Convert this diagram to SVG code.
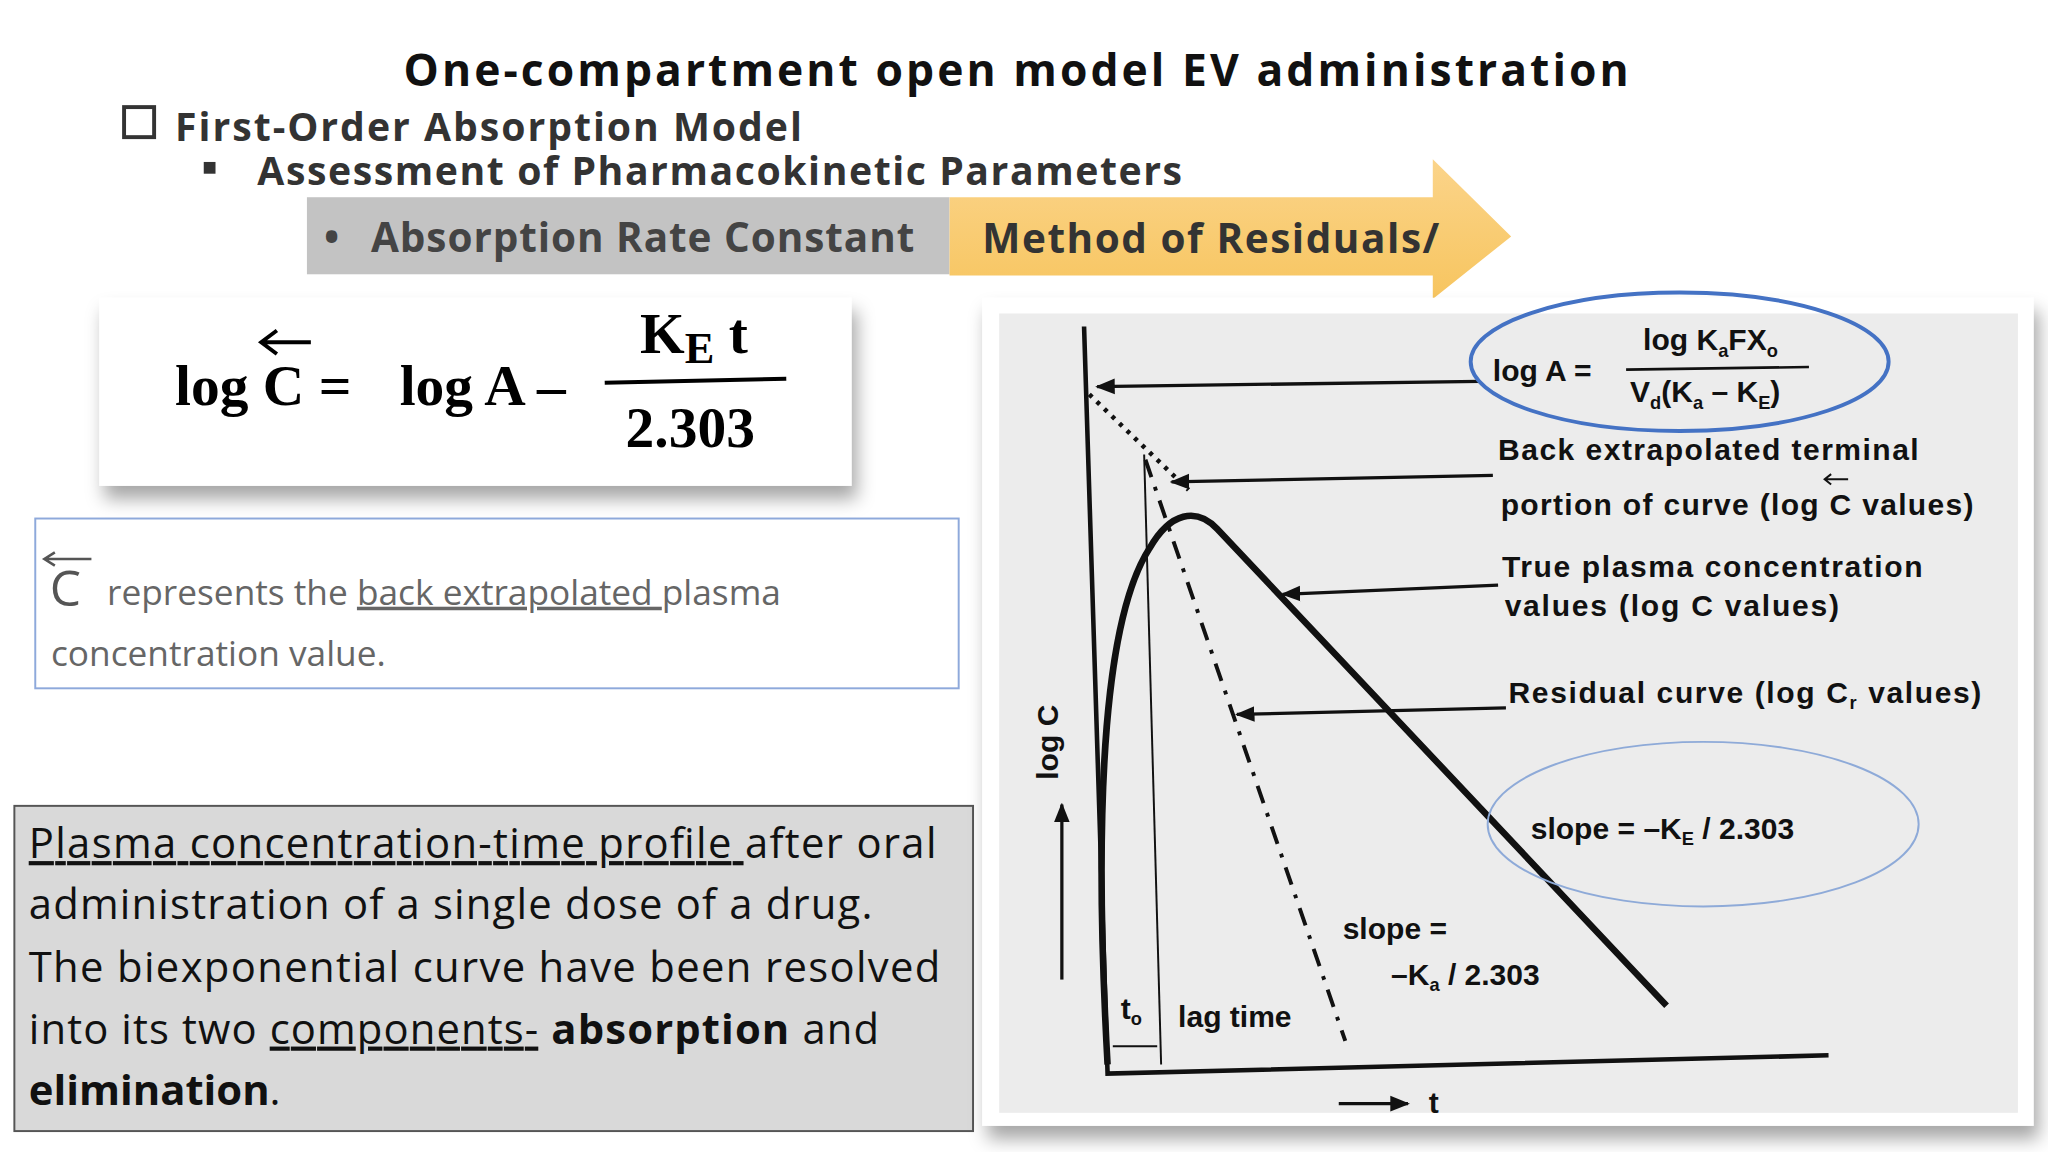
<svg xmlns="http://www.w3.org/2000/svg" width="2048" height="1152" viewBox="0 0 2048 1152">
<defs>
<style>
.h{font-family:"Open Sans","Liberation Sans",sans-serif;font-weight:bold}
.b{font-family:"Open Sans","Liberation Sans",sans-serif}
.c{font-family:"Liberation Sans",Arial,sans-serif;font-size:23px;font-weight:bold;fill:#111}
.s{font-family:"Liberation Serif",serif;font-weight:bold;fill:#000}
.ln{stroke:#111;fill:none}
</style>
<marker id="ah" viewBox="0 0 10 10" refX="9" refY="5" markerWidth="6" markerHeight="6" orient="auto"><path d="M0,1 L10,5 L0,9 z" fill="#111"/></marker>
<linearGradient id="og" x1="0" y1="0" x2="0" y2="1"><stop offset="0" stop-color="#fbd48a"/><stop offset="1" stop-color="#f7c55f"/></linearGradient>
<filter id="sh" x="-5%" y="-5%" width="115%" height="130%"><feDropShadow dx="4" dy="10" stdDeviation="7" flood-color="#000" flood-opacity="0.35"/></filter>
</defs>
<rect width="2048" height="1152" fill="#fff"/>
<g transform="scale(1.3061)">
<g id="title"><text class="h" x="778" y="66" font-size="34" text-anchor="middle" fill="#111" textLength="938">One-compartment open model EV administration</text></g>
<g id="heading1"><rect x="95" y="82" width="23" height="23" fill="none" stroke="#333" stroke-width="3"/><text class="h" x="134" y="108" font-size="30" fill="#333" textLength="480">First-Order Absorption Model</text></g>
<g id="heading2"><rect x="156" y="124" width="9" height="9" fill="#333"/><text class="h" x="197" y="142" font-size="30" fill="#333" textLength="708">Assessment of Pharmacokinetic Parameters</text></g>
<g id="greybar"><rect x="235" y="151" width="492" height="59" fill="#c3c3c3"/><text class="h" x="248" y="193" font-size="31" fill="#444">•</text><text class="h" x="284" y="193" font-size="31" fill="#444" textLength="416">Absorption Rate Constant</text></g>
<g id="arrow"><path d="M727,151 H1097 V122 L1157,181 L1097,229 V211 H727 Z" fill="url(#og)"/><text class="h" x="752" y="194" font-size="31" fill="#333" textLength="350">Method of Residuals/</text></g>
<g id="eqbox"><rect x="76" y="228" width="576" height="144" fill="#fff" filter="url(#sh)"/>
<text class="s" x="134" y="310" font-size="44">log C =</text>
<path d="M200,262 H238 M212,253 L200,262 L212,271" stroke="#000" stroke-width="3" fill="none"/>
<text class="s" x="306" y="310" font-size="44">log A –</text>
<text class="s" x="490" y="270" font-size="44">K<tspan font-size="34" dy="8">E</tspan><tspan dy="-8"> t</tspan></text>
<line x1="463" y1="293" x2="602" y2="290" stroke="#000" stroke-width="3"/>
<text class="s" x="479" y="342" font-size="44">2.303</text></g>
<g id="notebox"><rect x="27" y="397" width="707" height="130" fill="#fff" stroke="#8ea9db" stroke-width="1.5"/>
<path d="M34,428 H70 M42,423 L34,428 L42,433" stroke="#555" stroke-width="2" fill="none"/>
<text class="b" x="38" y="464" font-size="38" fill="#555">C</text>
<text class="b" x="82" y="463" font-size="27" fill="#666">represents the <tspan text-decoration="underline">back extrapolated </tspan>plasma</text>
<text class="b" x="39" y="510" font-size="27" fill="#666">concentration value.</text></g>
<g id="descbox"><rect x="11" y="617" width="734" height="249" fill="#d9d9d9" stroke="#555" stroke-width="1.5"/>
<g class="b" font-size="32" fill="#111">
<text x="22" y="657" textLength="695"><tspan text-decoration="underline">Plasma concentration-time profile </tspan>after oral</text>
<text x="22" y="704" textLength="646">administration of a single dose of a drug.</text>
<text x="22" y="752" textLength="698">The biexponential curve have been resolved</text>
<text x="22" y="799" textLength="651">into its two <tspan text-decoration="underline">components-</tspan> <tspan font-weight="bold">absorption</tspan> and</text>
<text x="22" y="846" font-weight="bold">elimination<tspan font-weight="normal">.</tspan></text></g></g>
<g id="chart">
<rect x="752" y="228" width="805" height="634" fill="#fff" filter="url(#sh)"/>
<rect x="765" y="240" width="780" height="612" fill="#ececec"/>
<path d="M830,250 L848,822 L1400,808" class="ln" stroke-width="3.5"/>
<path d="M848,815 C836,600 848,470 880,420 C896,392 916,388 932,405 L1276,770" class="ln" stroke-width="5"/>
<line x1="834" y1="302" x2="910" y2="375" class="ln" stroke-width="3.5" stroke-dasharray="3 5"/>
<line x1="877" y1="352" x2="1030" y2="797" class="ln" stroke-width="3" stroke-dasharray="14 8 3 8"/>
<line x1="876" y1="348" x2="889" y2="815" class="ln" stroke-width="1.5"/>
<line x1="852" y1="801" x2="886" y2="801" class="ln" stroke-width="1.5"/>
</g>
<g id="connectors" stroke="#111" stroke-width="2.5" fill="none">
<line x1="1133" y1="292" x2="840" y2="296" marker-end="url(#ah)"/>
<line x1="1143" y1="364" x2="897" y2="369" marker-end="url(#ah)"/>
<line x1="1147" y1="448" x2="982" y2="455" marker-end="url(#ah)"/>
<line x1="1153" y1="542" x2="947" y2="547" marker-end="url(#ah)"/>
<line x1="813" y1="750" x2="813" y2="616" marker-end="url(#ah)"/>
<line x1="1025" y1="845" x2="1078" y2="845" marker-end="url(#ah)"/>
</g>
<g id="labels">
<ellipse cx="1286" cy="277" rx="160" ry="53" fill="none" stroke="#4472c4" stroke-width="3"/>
<text class="c" x="1143" y="292">log A =</text>
<text class="c" x="1258" y="268">log K<tspan font-size="14" dy="5">a</tspan><tspan dy="-5">FX</tspan><tspan font-size="14" dy="5">o</tspan></text>
<line x1="1245" y1="283" x2="1385" y2="281" stroke="#111" stroke-width="2"/>
<text class="c" x="1248" y="308">V<tspan font-size="14" dy="5">d</tspan><tspan dy="-5">(K</tspan><tspan font-size="14" dy="5">a</tspan><tspan dy="-5"> – K</tspan><tspan font-size="14" dy="5">E</tspan><tspan dy="-5">)</tspan></text>
<text class="c" x="1147" y="352" textLength="322">Back extrapolated terminal</text>
<text class="c" x="1149" y="394" textLength="362">portion of curve (log C values)</text>
<path d="M1397,367 H1415 M1402,363 L1397,367 L1402,371" stroke="#111" stroke-width="1.5" fill="none"/>
<text class="c" x="1150" y="442" textLength="322">True plasma concentration</text>
<text class="c" x="1152" y="472" textLength="256">values (log C values)</text>
<text class="c" x="1155" y="538" textLength="362">Residual curve (log C<tspan font-size="14" dy="5">r</tspan><tspan dy="-5"> values)</tspan></text>
<ellipse cx="1304" cy="631" rx="165" ry="63" fill="none" stroke="#8eaad8" stroke-width="1.5"/>
<text class="c" x="1172" y="642">slope = –K<tspan font-size="14" dy="5">E</tspan><tspan dy="-5"> / 2.303</tspan></text>
<text class="c" x="1028" y="719">slope =</text>
<text class="c" x="1065" y="754">–K<tspan font-size="14" dy="5">a</tspan><tspan dy="-5"> / 2.303</tspan></text>
<text class="c" x="858" y="780">t<tspan font-size="14" dy="5">o</tspan></text>
<text class="c" x="902" y="786">lag time</text>
<text class="c" transform="translate(810,597) rotate(-90)">log C</text>
<text class="c" x="1094" y="852">t</text>
</g>
</g>
</svg>
